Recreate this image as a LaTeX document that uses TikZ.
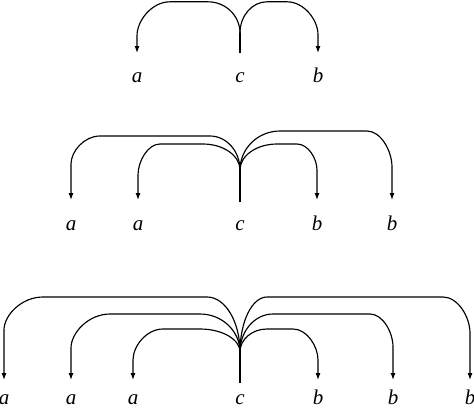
\documentclass[tikz,border=0pt]{standalone}
\usepackage{fontspec}
\setmainfont{Liberation Serif}
\usetikzlibrary{arrows.meta}
\tikzset{
  arr/.style={line width=1.15pt,-{Latex[length=7pt,width=5pt]}},
  stem/.style={line width=1.4pt},
  lab/.style={font=\fontsize{21}{24}\selectfont\itshape,inner sep=0pt,anchor=base}
}
% #1 start coord, #2 cx, #3 yc, #4 ytop, #5 w1 (signed), #6 xend, #7 w2 (signed), #8 h2, #9 tip coord
\newcommand{\fanarc}[9]{%
  \draw[arr] (#1) .. controls (#2,{#3-0.552*(#3-#4)}) and ({#2+0.448*(#5)},#4) .. ({#2+(#5)},#4)
    -- ({#6-(#7)},#4) .. controls ({#6-0.448*(#7)},#4) and (#6,{#4+0.552*(#8)}) .. (#6,{#4+(#8)}) -- (#9);}
\begin{document}
\begin{tikzpicture}[x=1pt,y=-1pt]
\useasboundingbox (0,0) rectangle (474,408);
% ---------- top ----------
\coordinate (c1) at (240,33);
\coordinate (s1) at (240,53);
\coordinate (t1a) at (137,53);
\coordinate (t1b) at (318,53);
\node[lab] (l1a) at (137,82) {a};
\node[lab] (l1c) at (240,82) {c};
\node[lab] (l1b) at (318,82) {b};
\draw[stem] (s1) -- (c1);
\fanarc{c1}{240}{33}{1.8}{-32}{137}{-33}{34}{t1a}
\fanarc{c1}{240}{33}{1.8}{27}{318}{31}{33}{t1b}
% ---------- middle ----------
\coordinate (c2) at (240,170);
\coordinate (s2) at (240,202);
\coordinate (t2a1) at (71,200);
\coordinate (t2a2) at (138,200);
\coordinate (t2b1) at (317,200);
\coordinate (t2b2) at (392,200);
\node[lab] (l2a1) at (71,230) {a};
\node[lab] (l2a2) at (138,230) {a};
\node[lab] (l2c) at (240,230) {c};
\node[lab] (l2b1) at (317,230) {b};
\node[lab] (l2b2) at (392,230) {b};
\draw[stem] (s2) -- (c2);
\fanarc{c2}{240}{170}{136}{-30}{71}{-29}{28}{t2a1}
\fanarc{c2}{240}{170}{144}{-37}{138}{-22}{31}{t2a2}
\fanarc{c2}{240}{170}{144}{37}{317}{20}{26}{t2b1}
\fanarc{c2}{240}{170}{131}{40}{392}{25}{36}{t2b2}
% ---------- bottom ----------
\coordinate (c3) at (240,352);
\coordinate (s3) at (240,383);
\coordinate (t3a1) at (4,380);
\coordinate (t3a2) at (71,380);
\coordinate (t3a3) at (133,380);
\coordinate (t3b1) at (318,380);
\coordinate (t3b2) at (393,380);
\coordinate (t3b3) at (470,380);
\node[lab] (l3a1) at (4,404) {a};
\node[lab] (l3a2) at (71,404) {a};
\node[lab] (l3a3) at (133,404) {a};
\node[lab] (l3c) at (240,404) {c};
\node[lab] (l3b1) at (318,404) {b};
\node[lab] (l3b2) at (393,404) {b};
\node[lab] (l3b3) at (470,404) {b};
\draw[stem] (s3) -- (c3);
\fanarc{c3}{240}{352}{297}{-33}{4}{-39}{33}{t3a1}
\fanarc{c3}{240}{352}{314}{-40}{71}{-39}{34}{t3a2}
\fanarc{c3}{240}{352}{329}{-40}{133}{-30}{31}{t3a3}
\fanarc{c3}{240}{352}{329}{27}{318}{25}{31}{t3b1}
\fanarc{c3}{240}{352}{314}{33}{393}{23}{33}{t3b2}
\fanarc{c3}{240}{352}{297}{27}{470}{27}{36}{t3b3}
\end{tikzpicture}
\end{document}
